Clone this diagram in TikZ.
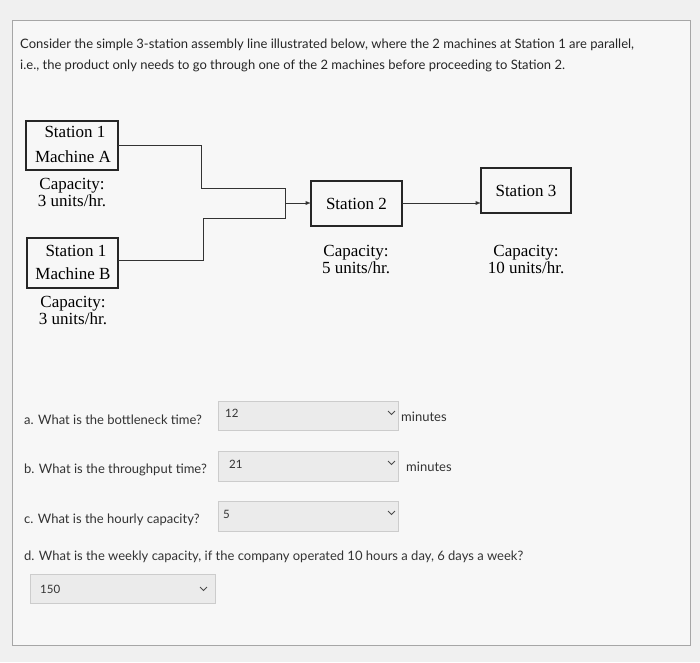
\documentclass[tikz,border=0pt]{standalone}
\usepackage{fontspec}
\setmainfont{Lato}
\newfontfamily\dserif{Liberation Serif}
\begin{document}
\begin{tikzpicture}[x=1pt,y=-1pt,
 box/.style={draw=black!85,line width=1.4pt},
 dt/.style={font=\dserif\fontsize{17}{17}\selectfont,align=center,inner sep=0},
 q/.style={font=\fontsize{13}{14}\selectfont,anchor=west,inner sep=0,text=black!80},
 inp/.style={draw=black!20,fill=white!92!black,line width=0.6pt},
 val/.style={font=\fontsize{11.5}{12}\selectfont,anchor=west,inner sep=0,text=black!80},
 chev/.style={draw=black!70,line width=1pt},
 con/.style={draw=black!80,line width=0.9pt},
 arr/.style={con,-latex}]
\useasboundingbox (0,0) rectangle (700,662);
\fill[black!6] (0,0) rectangle (700,662);
\draw[black!35,line width=0.8pt,fill=black!3] (12,20) rectangle (690,645);
\node[q,text=black!85] (t1) at (20,45) {Consider the simple 3-station assembly line illustrated below, where the 2 machines at Station 1 are parallel,};
\node[q,text=black!85] (t2) at (20,66) {i.e., the product only needs to go through one of the 2 machines before proceeding to Station 2.};
% diagram
\draw[box] (26,121) rectangle (118,170);
\node[dt] (a1) at (75,132) {Station 1};
\node[dt] (a2) at (73,157) {Machine A};
\node[dt] (ac) at (72,192) {Capacity:\\3 units/hr.};
\draw[box] (27,238) rectangle (118,288);
\node[dt] (b1) at (76,251) {Station 1};
\node[dt] (b2) at (73,274) {Machine B};
\node[dt] (bc) at (73,310) {Capacity:\\3 units/hr.};
\draw[box] (311,181) rectangle (402,226) node[pos=.5,dt] (s2) {Station 2};
\node[dt] (s2c) at (356,259) {Capacity:\\5 units/hr.};
\draw[box] (481,168) rectangle (571,213) node[pos=.5,dt] (s3) {Station 3};
\node[dt] (s3c) at (526,259) {Capacity:\\10 units/hr.};
\coordinate (m) at (285,203);
\draw[con] (118,145) -| (201,188) -- (285,188) -- (285,218) -- (203,218) |- (118,260);
\draw[arr] (m) -- (311,203);
\draw[arr] (402,203) -- (481,203);
% questions
\node[q] (qa) at (24,420) {a. What is the bottleneck time?};
\draw[inp] (218,401) rectangle (398,430);
\node[val] (va) at (225,413) {12};
\draw[chev] (388,411)--(391.5,414.5)--(395,411);
\node[q] (ua) at (401,417) {minutes};
\node[q] (qb) at (24,470) {b. What is the throughput time?};
\draw[inp] (218,451) rectangle (398,481);
\node[val] (vb) at (229,464) {21};
\draw[chev] (388,461)--(391.5,464.5)--(395,461);
\node[q] (ub) at (406,467) {minutes};
\node[q] (qc) at (24,520) {c. What is the hourly capacity?};
\draw[inp] (218,501) rectangle (398,531);
\node[val] (vc) at (223,514) {5};
\draw[chev] (388,511)--(391.5,514.5)--(395,511);
\node[q] (qd) at (24,557) {d. What is the weekly capacity, if the company operated 10 hours a day, 6 days a week?};
\draw[inp] (30,574) rectangle (215,603);
\node[val] (vd) at (40,589) {150};
\draw[chev] (200,587)--(203.5,590.5)--(207,587);
\end{tikzpicture}
\end{document}
